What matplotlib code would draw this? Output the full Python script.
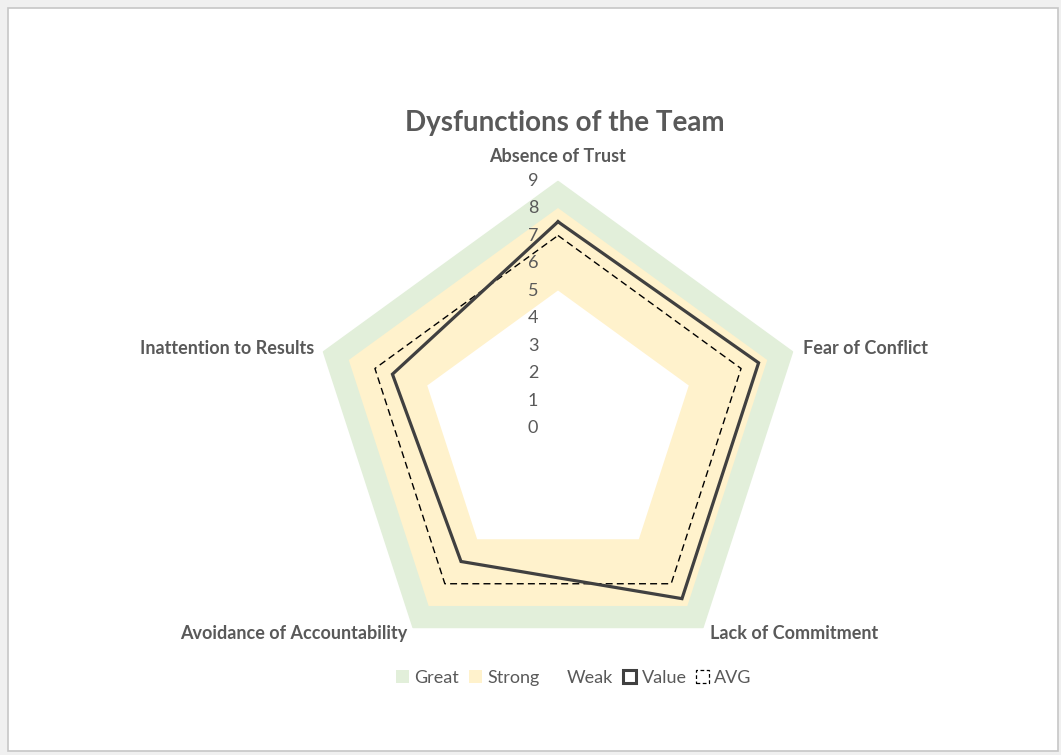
"""
Radar chart: Dysfunctions of the Team
"""

import numpy as np
import matplotlib
matplotlib.use("Agg")
import matplotlib.pyplot as plt
from matplotlib.patches import Patch, Rectangle

plt.rcParams['font.family'] = ['Lato', 'DejaVu Sans']

# Data
categories = ["Absence of Trust", "Fear of Conflict", "Lack of Commitment",
              "Avoidance of Accountability", "Inattention to Results"]
great = [9, 9, 9, 9, 9]
strong = [8, 8, 8, 8, 8]
weak = [5, 5, 5, 5, 5]
value = [7.5, 7.67, 7.67, 6, 6.33]
avg = [7, 7, 7, 7, 7]
ticks = list(range(0, 10))

GREEN = "#E2EFDA"
YELLOW = "#FFF2CC"
TEXT = "#595959"

W, H = 1061, 755
fig = plt.figure(figsize=(W / 100, H / 100), dpi=100, facecolor="#F0F0F0")

# white chart panel with thin gray border (behind everything)
fig.patches.append(Rectangle((8 / W, 4 / H), 1050 / W, 743 / H,
                             transform=fig.transFigure, facecolor="white",
                             edgecolor="#C6C6C6", lw=1.2, zorder=-5))

# polar axes centred on (558, 428) px, radius 247.5 px
cx, cy, R = 558, 428, 247.5
ax = fig.add_axes([(cx - R) / W, (H - cy - R) / H, 2 * R / W, 2 * R / H],
                  projection="polar")
ax.set_theta_offset(np.pi / 2)
ax.set_theta_direction(-1)
ax.set_ylim(0, 9)
ax.patch.set_alpha(0)
ax.grid(False)
ax.spines["polar"].set_visible(False)
ax.set_xticks([])
ax.set_yticks([])

n = len(categories)
theta = np.linspace(0, 2 * np.pi, n, endpoint=False)
th = np.append(theta, theta[0])

def closed(v):
    return np.append(v, v[0])

ax.fill(th, closed(great), color=GREEN, lw=0, zorder=1)
ax.fill(th, closed(strong), color=YELLOW, lw=0, zorder=2)
ax.fill(th, closed(weak), color="white", lw=0, zorder=3)
ax.plot(th, closed(value), color="#404040", lw=2.3, zorder=5,
        solid_joinstyle="miter")
ax.plot(th, closed(avg), color="black", lw=1.0, ls=(0, (5, 3)), zorder=4)

# radial tick labels to the left of the top axis
for t in ticks:
    ax.annotate(str(t), xy=(0, t), xytext=(-18, 0), textcoords="offset points",
                ha="center", va="center", fontsize=13, color=TEXT, zorder=6)

# category labels
offsets = [(0, 17, "center"), (7, 2, "left"), (5, -4, "left"),
           (-4, -4, "right"), (-6, 2, "right")]
for ang, lab, (dx, dy, ha) in zip(theta, categories, offsets):
    ax.annotate(lab, xy=(ang, 9), xytext=(dx, dy), textcoords="offset points",
                ha=ha, va="center", fontsize=13, fontweight="bold",
                color=TEXT, annotation_clip=False)

fig.text(565 / W, 1 - 123 / H, "Dysfunctions of the Team", ha="center",
         va="center", fontsize=20, fontweight="bold", color=TEXT)

handles = [
    Patch(facecolor=GREEN, edgecolor="none"),
    Patch(facecolor=YELLOW, edgecolor="none"),
    Patch(facecolor="white", edgecolor="none"),
    Patch(facecolor="white", edgecolor="#404040", lw=2.2),
    Patch(facecolor="white", edgecolor="black", lw=0.9, ls=(0, (3, 2))),
]
fig.legend(handles, ["Great", "Strong", "Weak", "Value", "AVG"],
           loc="center", bbox_to_anchor=(574 / W, 1 - 678 / H), ncol=5,
           frameon=False, fontsize=13, labelcolor=TEXT, handlelength=0.7,
           handleheight=0.7, handletextpad=0.3, columnspacing=0.55)

fig.savefig("out.png", dpi=100, facecolor=fig.get_facecolor())
